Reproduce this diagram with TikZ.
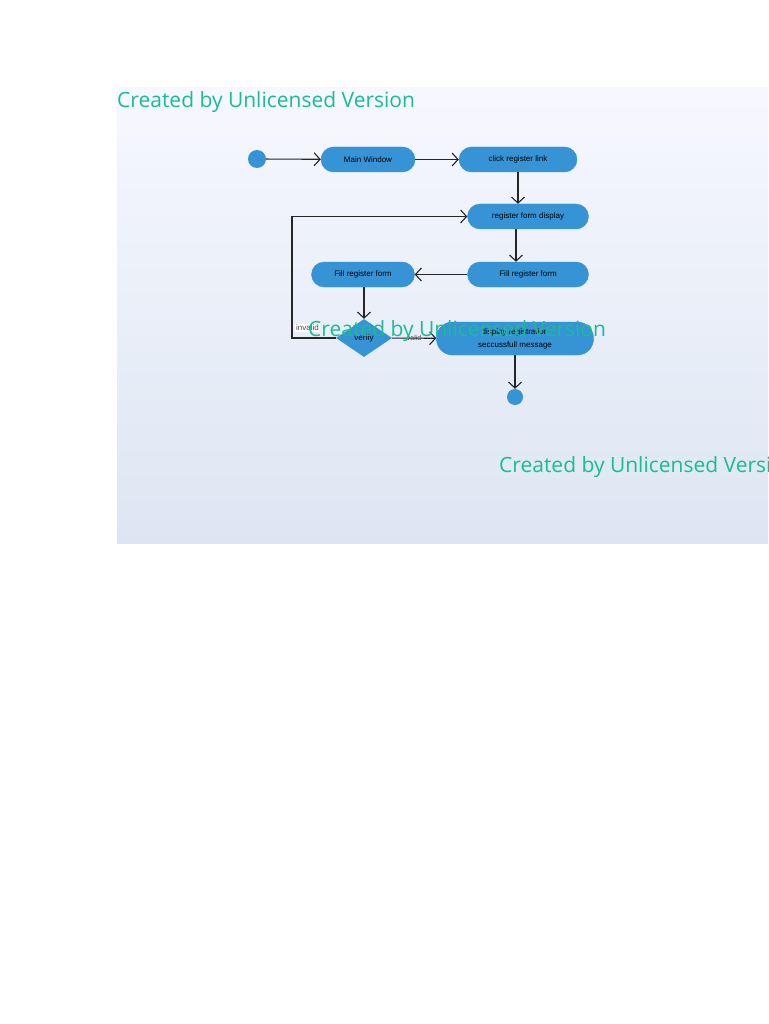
\documentclass[tikz,border=0pt]{standalone}
\usepackage{fontspec}
\setmainfont{Liberation Sans}
\newfontfamily\wmfont{Open Sans}
\usetikzlibrary{shapes.geometric,arrows.meta}
\definecolor{nodeblue}{RGB}{53,147,214}
\definecolor{wm}{RGB}{26,188,150}
\begin{document}
\begin{tikzpicture}[x=1pt,y=-1pt,
  act/.style={draw=nodeblue,fill=nodeblue,rounded corners=12.5pt,minimum height=25pt,inner sep=0pt,font=\fontsize{8}{10}\selectfont},
  dot/.style={circle,fill=nodeblue,inner sep=0pt},
  flow/.style={draw=black!85,line width=1.1pt,-{Straight Barb[length=6pt,width=13pt]}},
  wmark/.style={text=wm,font=\wmfont\fontsize{21}{24}\selectfont,anchor=west,inner sep=0pt}]
\useasboundingbox (0,0) rectangle (768,1024);
\clip (0,0) rectangle (768,1024);
\fill[white] (0,0) rectangle (768,1024);
\shade[top color=blue!3!white,bottom color={rgb,255:red,220;green,230;blue,242}] (117,88) rectangle (768,543);
\node[dot,minimum size=18pt] (start) at (257,159) {};
\node[act,minimum width=94pt] (main) at (368,159.5) {Main Window};
\node[act,minimum width=118pt] (click) at (518,159.5) {click register link};
\node[act,minimum width=121pt] (disp) at (528,216.5) {register form display};
\node[act,minimum width=121pt] (fillr) at (528,274.5) {Fill register form};
\node[act,minimum width=103pt] (filll) at (363,274.5) {Fill register form};
\node[diamond,fill=nodeblue,minimum width=56pt,minimum height=38pt,inner sep=0pt,font=\fontsize{8}{10}\selectfont] (verify) at (364,338) {verify};
\node[act,minimum width=157pt,minimum height=33pt,rounded corners=16pt,align=center,font=\fontsize{8}{13}\selectfont] (succ) at (515,338.5) {display registration\\seccussfull message};
\node[dot,minimum size=16pt] (final) at (515,397) {};
\draw[flow] (start) -- (main);
\draw[flow] (main) -- (click);
\draw[flow] (click.south -| 518,0) -- (disp.north -| 518,0);
\draw[flow] (disp.south -| 516,0) -- (fillr.north -| 516,0);
\draw[flow] (fillr) -- (filll);
\draw[flow] (filll.south -| 364,0) -- (verify.north);
\draw[flow] (verify) -- node[pos=0.5,font=\fontsize{7}{8}\selectfont,text=black!70] (validlbl) {valid} (succ);
\draw[flow] (succ) -- (final);
\coordinate (c1) at (292,338);
\coordinate (c2) at (292,216.5);
\draw[flow] (verify.west) -- (c1) -- (c2) -- (disp);
\node[fill=white,inner sep=1pt,font=\fontsize{8}{10}\selectfont,text=black!70,anchor=west] (inv) at (295,328) {invalid};
\node[wmark] (w1) at (117,102) {Created by Unlicensed Version};
\node[wmark] (w2) at (308,331) {Created by Unlicensed Version};
\node[wmark] (w3) at (499,467) {Created by Unlicensed Version};
\end{tikzpicture}
\end{document}
